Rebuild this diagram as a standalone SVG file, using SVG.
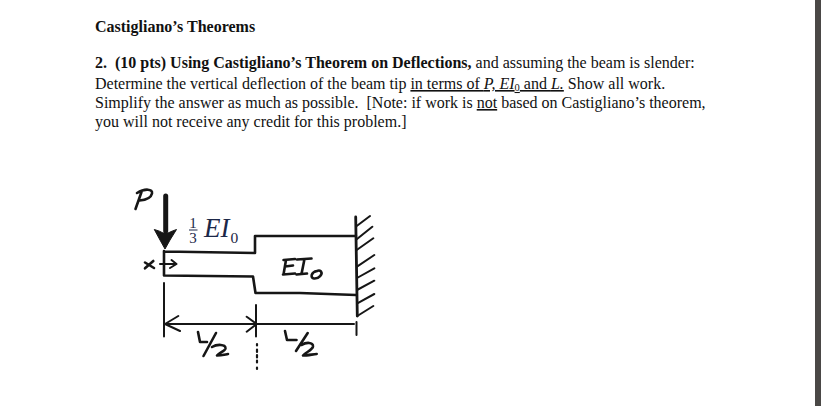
<svg xmlns="http://www.w3.org/2000/svg" width="821" height="406" viewBox="0 0 821 406">
<style>
.t{font-family:"Liberation Serif","Times New Roman",serif;font-size:16px;fill:#111;white-space:pre}
.b{font-weight:bold}
.i{font-style:italic}
.u{text-decoration:underline}
.h,.f,.w{fill:none;stroke:#161616;stroke-linecap:round;stroke-linejoin:round}
.h{stroke-width:2.6}
.f{stroke-width:2}
.w{stroke-width:2.8}
.m{font-family:"Liberation Serif","Times New Roman",serif;fill:#1b2748}
</style>
<rect width="821" height="406" fill="#fff"/>
<rect x="815" y="0" width="6" height="406" fill="#4a4846"/>
<g id="text">
<text class="t b" x="95" y="32">Castigliano’s Theorems</text>
<text class="t" x="95" y="68"><tspan class="b">2.  (10 pts) Using Castigliano’s Theorem on Deflections,</tspan> and assuming the beam is slender:</text>
<text class="t" x="95" y="89">Determine the vertical deflection of the beam tip <tspan class="u">in terms of <tspan class="i">P, EI</tspan><tspan font-size="10.5" dy="2">0</tspan><tspan dy="-2"> and </tspan><tspan class="i">L.</tspan></tspan> Show all work.</text>
<text class="t" x="95" y="108">Simplify the answer as much as possible.  [Note: if work is <tspan class="u">not</tspan> based on Castigliano’s theorem,</text>
<text class="t" x="95" y="127">you will not receive any credit for this problem.]</text>
</g>
<g id="connectors">
<path d="M165.700 196V231" fill="none" stroke="#161616" stroke-width="5" stroke-linecap="round"/>
<path d="M154.300 229.500Q160 231 163 233H168Q172 231 176.500 229.500L170 240L165 249L160 240Z" fill="#161616" stroke="#161616" stroke-linejoin="round"/>
<path class="f" d="M164 283V336.500M178.300 316L165 324L180 331M165 324H354M246.700 316.700L256.700 324L246.700 331.700M256 305V336.500M356.500 322V335"/>
<path class="f" d="M160 264H176.500M171.500 260L176.500 264L170 268"/>
<path d="M257 344V345.500M257 349.500V352M257 355V357.500M257 360.500V362.500M257 367.500V369" fill="none" stroke="#161616" stroke-width="2.200" stroke-linecap="round"/>
</g>
<g id="beam">
<path class="h" d="M164 251V275.500M164 251.500L255 253V236H356M164 275.500L253 276.500L255.500 293H300L356 295"/>
</g>
<g id="wall">
<path class="w" d="M355.700 217L357.300 316"/>
<path class="f" d="M356.700 226L370 216M356.700 239.300L372.300 226.700M356.700 250L373.300 238.300M357 266.700L374.300 255M357 278L374.300 268.300M357 290L374.300 280.700M357.300 303.300L374.300 294M357.300 316L373.300 306"/>
</g>
<g id="P"><path class="h" d="M135.500 209L141.500 192M137 193C145 188 153 189 152 193.500C151 198 146 200 139.500 200.500"/></g>
<g id="label-tip"><path class="h" d="M145 262.500L154 268M153.300 261L145 268.300"/></g>
<g id="label-left">
<text class="m" x="193" y="227.500" font-size="15" text-anchor="middle">1</text>
<path d="M189 230H197.500" stroke="#1b2748" stroke-width="1"/>
<text class="m" x="193" y="243" font-size="15" text-anchor="middle">3</text>
<text class="m" x="204" y="237" font-size="27" font-style="italic">EI</text>
<text class="m" x="230.500" y="243" font-size="15.500">0</text>
</g>
<g id="label-right">
<path class="h" d="M283.500 260L295 259M285 266.500L293 265.500M283 274.500L295 273.500M286 260L283.500 274.500M297 259.500L311.500 258.500M304.500 259L301.500 274M296.500 274.500L307 273.500"/>
<path class="h" d="M317 271C311 272 310 278 314 278.500C319 279 323 274 321 271.500C320 270.500 318 270.500 317 271Z"/>
</g>
<g id="label-half-left">
<path class="h" d="M198 332L200 342H207M216 333L203.500 356M212 347C217 344 226 344 225.500 348.500C225 351 219 353 217 355.500C221 355.500 225 354.500 228 354"/>
</g>
<g id="label-half-right">
<path class="h" d="M285 331L287 340H296.500M307.700 333L296 351M301.700 345C306 342 313.500 342 313 346.500C312.500 350 306 352 303 355.500C307 355.500 312 354.500 316.700 354"/>
</g>
</svg>
